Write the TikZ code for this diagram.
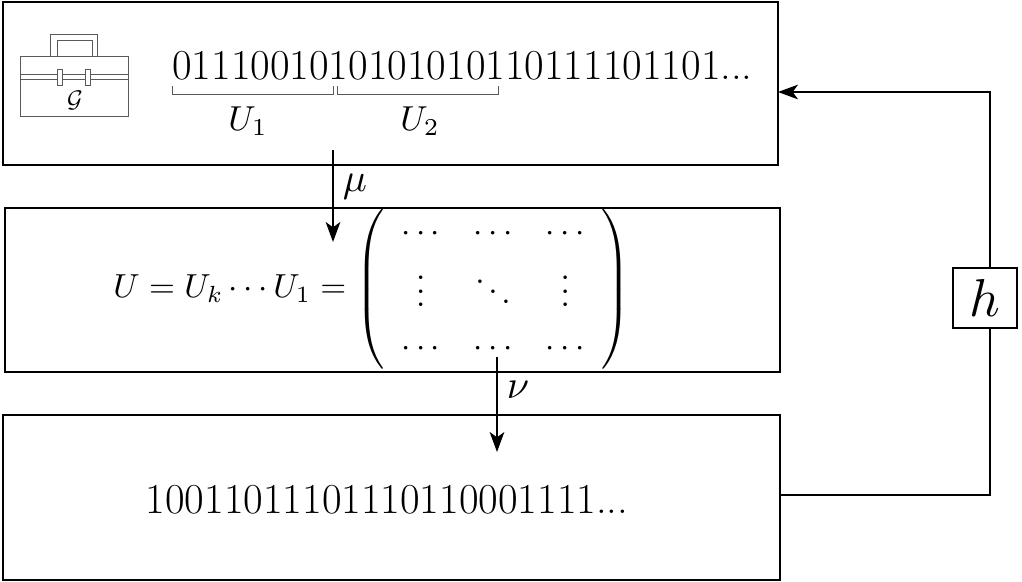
\documentclass[tikz,border=0pt]{standalone}
\usetikzlibrary{arrows.meta}
\begin{document}
\begin{tikzpicture}[x=0.75pt,y=-0.75pt,
  box/.style={draw,line width=1.3pt},
  arr/.style={line width=1.1pt,-{Stealth[length=15pt,width=11pt,inset=4pt]}},
  thin/.style={draw=gray!70!black,line width=0.5pt},
  big/.style={font=\fontsize{32}{38}\selectfont,inner sep=0pt}]
\useasboundingbox (0,0) rectangle (1022,582);
\draw[box] (3,2) rectangle (778,165);
\draw[box] (5,208) rectangle (780,372);
\draw[box] (3,415) rectangle (780,580);
% toolbox
\draw[thin] (20,56) rectangle (128,116);
\draw[thin] (50,56) -- (50,34) -- (97,34) -- (97,56);
\draw[thin] (57,56) -- (57,40) -- (92,40) -- (92,56);
\draw[thin] (20,74) -- (128,74) (20,79) -- (128,79);
\draw[thin,fill=white] (57,69) rectangle (62,85);
\draw[thin,fill=white] (85,69) rectangle (90,85);
\node (G) at (75,100) {\scalebox{1.8}{$\mathcal{G}$}};
% top bits
\node[big,anchor=west] (bits1) at (172,66) {0111001010101010110111101101...};
\draw[thin] (172,86) -- (172,94) -- (333,94) -- (333,86);
\draw[thin] (337,86) -- (337,94) -- (498,94) -- (498,86);
\node (U1) at (248,121) {\scalebox{2.6}{$U_1$}};
\node (U2) at (420,121) {\scalebox{2.6}{$U_2$}};
% middle
\node (eq) at (372,289) {\scalebox{2.5}{$U=U_k\cdots U_1=\left(\renewcommand{\arraystretch}{1.25}\setlength{\arraycolsep}{5pt}\begin{array}{ccc}\cdots&\cdots&\cdots\\ \vdots&\ddots&\vdots\\ \cdots&\cdots&\cdots\end{array}\right)$}};
% bottom
\node[big] (bits2) at (387,500) {10011011101110110001111...};
% h
\node[draw,line width=1pt,minimum width=48pt,minimum height=45pt,inner sep=0pt,fill=white] (h) at (985,298) {\scalebox{4}{$h$}};
\coordinate (mu1) at (333,150); \coordinate (mu2) at (333,242);
\coordinate (nu1) at (497,357); \coordinate (nu2) at (497,452);
\draw[arr] (mu1) -- (mu2);
\draw[arr] (nu1) -- (nu2);
\node at (355,187) {\scalebox{3}{$\mu$}};
\node at (518,390) {\scalebox{3}{$\nu$}};
\coordinate (b) at (780,495); \coordinate (c) at (990,495); \coordinate (d) at (990,92); \coordinate (t) at (778,92);
\draw[line width=1.1pt] (b) -- (c) -- (h.south -| c);
\draw[arr] (h.north -| c) -- (d) -- (t);
\end{tikzpicture}
\end{document}
